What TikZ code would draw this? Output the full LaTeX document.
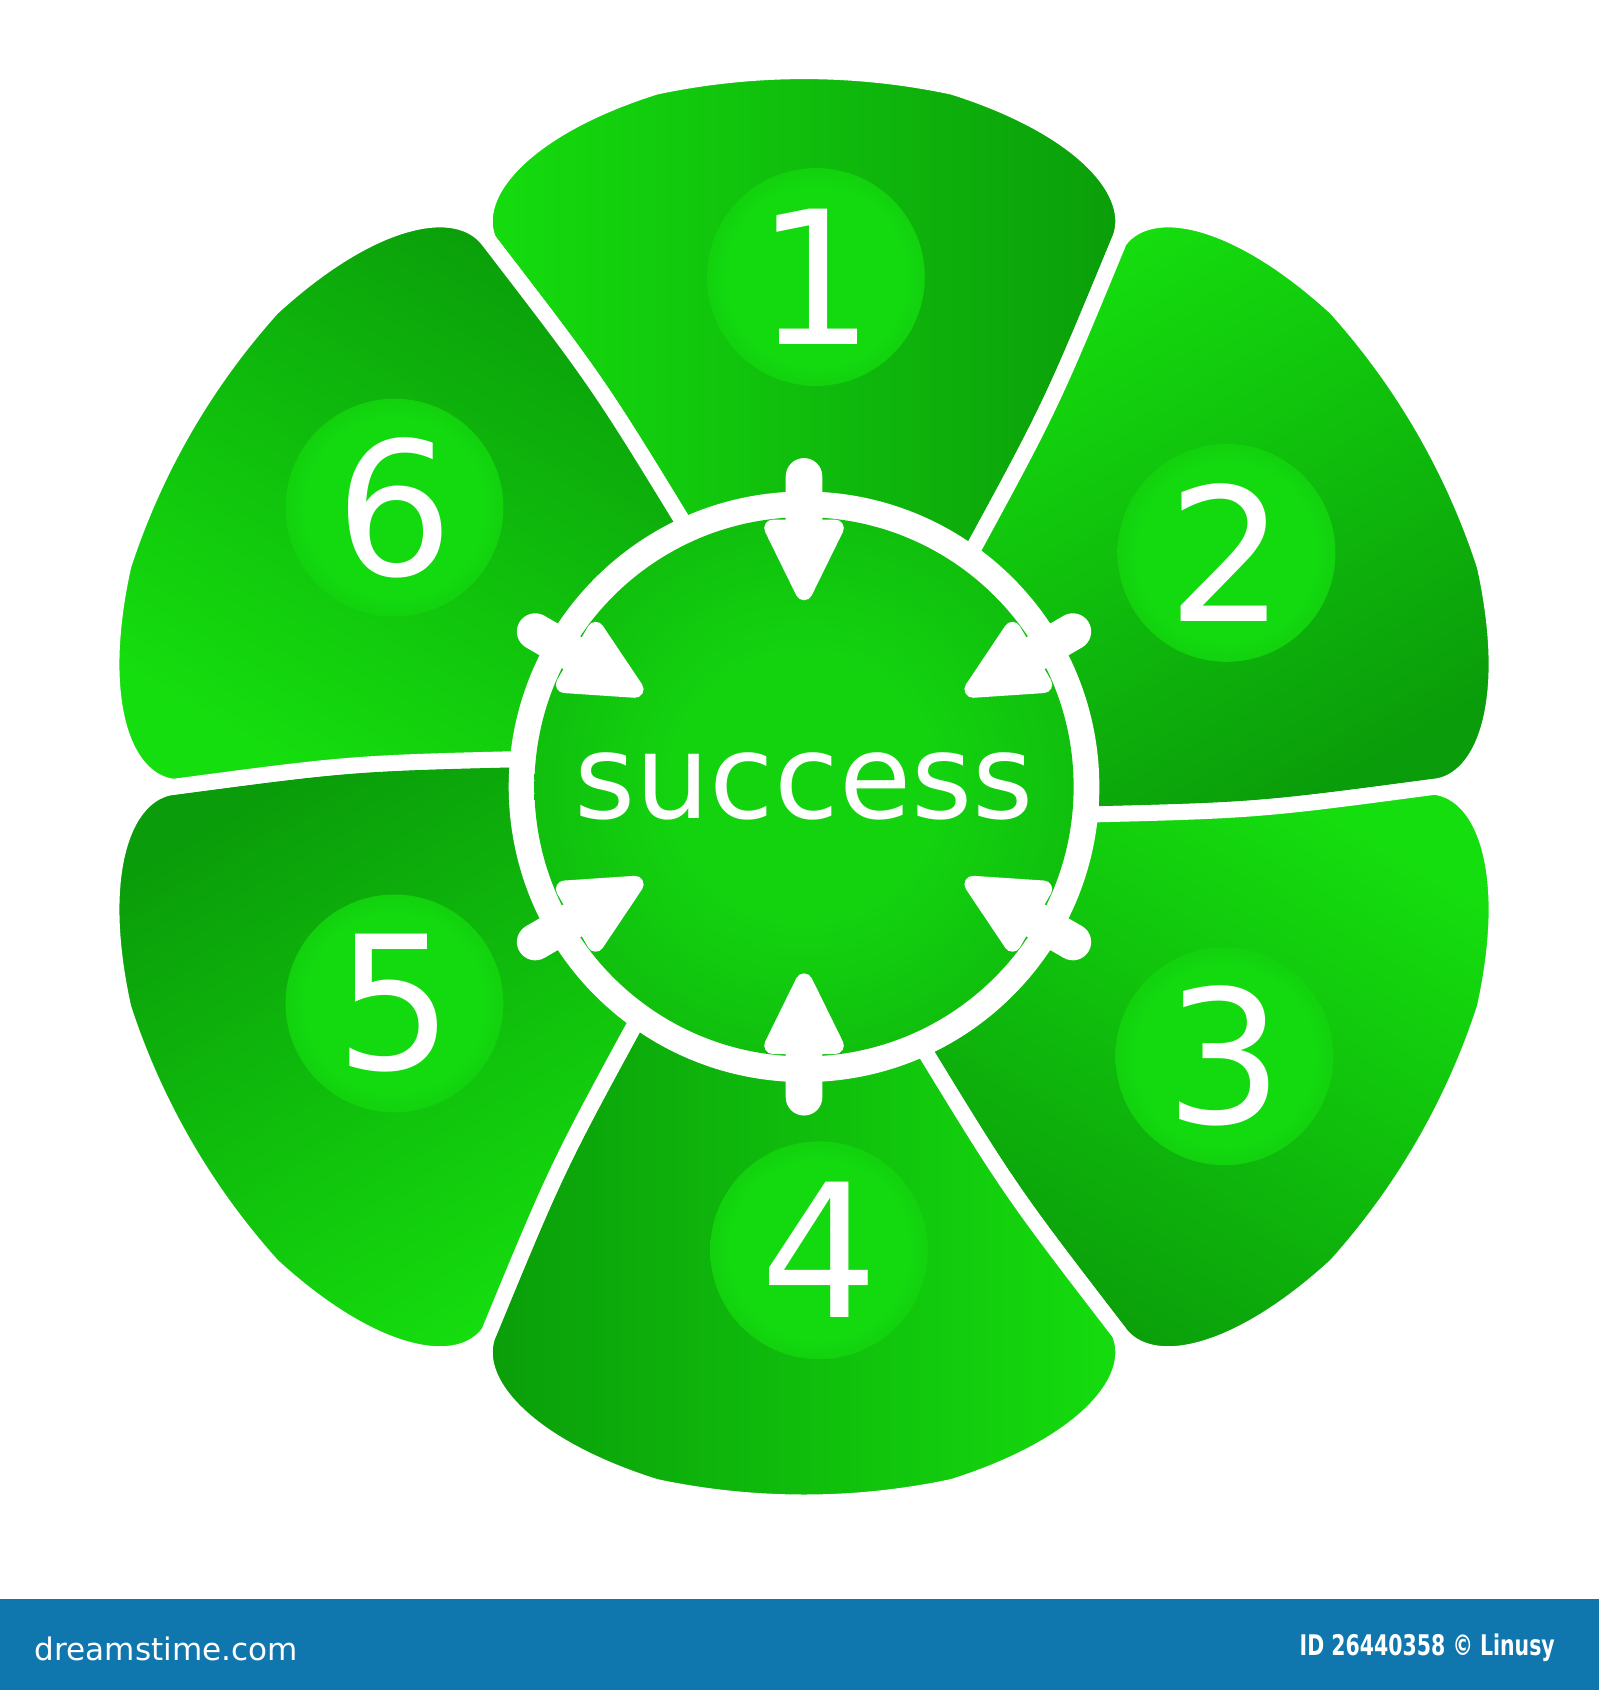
\documentclass[tikz,border=0pt]{standalone}
\usepackage{fontspec}
\setmainfont{DejaVu Sans}
\usepackage{graphicx}
\usepackage{tikz}
\usetikzlibrary{calc}

\definecolor{leafhi}{HTML}{15DE0E}
\definecolor{leaflo}{HTML}{0A9C0A}
\definecolor{dothi}{HTML}{13DA0F}
\definecolor{dotlo}{HTML}{0BA80A}
\definecolor{hubhi}{HTML}{13D30F}
\definecolor{hublo}{HTML}{0A9A0A}
\definecolor{barblue}{HTML}{0F76AE}

\pgfdeclareradialshading{dotshade}{\pgfpoint{0bp}{0bp}}{color(0bp)=(dothi); color(20bp)=(dothi); color(50bp)=(dotlo)}
\pgfdeclareradialshading{hubshade}{\pgfpoint{0bp}{0bp}}{color(0bp)=(hubhi); color(12bp)=(hubhi); color(50bp)=(hublo)}

\newcommand{\leafpath}[1]{(#1+24:250) .. controls (#1+27:420) .. (#1+30:585)
  .. controls (#1+29.5:632) and (#1+23:664) .. (#1+12:664)
  arc[start angle=#1+12, end angle=#1-12, radius=664]
  .. controls (#1-23:664) and (#1-29.5:632) .. (#1-30:585)
  .. controls (#1-33:420) .. (#1-36:250) -- cycle}

\newcommand{\pointer}[1]{%
  \fill[white, rotate=#1] (200,-17) -- (288,-17) arc[start angle=-90, end angle=90, radius=17] -- (200,17) -- cycle;
  \filldraw[white, rotate=#1, line join=round, line width=4.5pt] (240,-29) -- (240,29) -- (181,0) -- cycle;}

\tikzset{
  leaf/.style={draw=white, line width=4.2pt, line join=round},
  dot/.style={circle, minimum size=2.02cm, inner sep=0pt, shade, shading=dotshade, text=white, font=\fontsize{49}{49}\selectfont},
  hub/.style={circle, minimum size=5cm, inner sep=0pt, shade, shading=hubshade, text=white, font=\fontsize{31}{31}\selectfont},
}

\begin{document}
\begin{tikzpicture}[x=0.01cm, y=0.01cm]
            \useasboundingbox (-746,-838) rectangle (738,730);

            \draw[leaf, top color=leafhi, bottom color=leaflo, shading angle=90] \leafpath{90};
            \draw[leaf, top color=leafhi, bottom color=leaflo, shading angle=30] \leafpath{30};
            \draw[leaf, top color=leafhi, bottom color=leaflo, shading angle=-30] \leafpath{-30};
            \draw[leaf, top color=leafhi, bottom color=leaflo, shading angle=-90] \leafpath{-90};
            \draw[leaf, top color=leafhi, bottom color=leaflo, shading angle=-150] \leafpath{-150};
            \draw[leaf, top color=leafhi, bottom color=leaflo, shading angle=150] \leafpath{150};

            \node[dot] (d1) at (11,473) {1};
            \node[dot] (d2) at (392,217) {2};
            \node[dot] (d3) at (390,-250) {3};
            \node[dot] (d4) at (14,-430) {4};
            \node[dot] (d5) at (-380,-201) {5};
            \node[dot] (d6) at (-380,259) {6};

            \fill[white] (0,0) circle[radius=274];
            \node[hub] (hub) at (0,0) {success};

            \pointer{90}
            \pointer{30}
            \pointer{-30}
            \pointer{-90}
            \pointer{-150}
            \pointer{150}

            \fill[barblue] (-746,-754) rectangle (738,-838);
            \node[anchor=west, text=white, font=\fontsize{8.2}{8.2}\selectfont] (site) at (-726,-800) {dreamstime.com};
            \node[anchor=east, text=white, font=\bfseries\fontsize{7.5}{7.5}\selectfont] (credit) at (709,-799) {\scalebox{0.72}[1]{ID 26440358 © Linusy}};
\end{tikzpicture}
\end{document}
